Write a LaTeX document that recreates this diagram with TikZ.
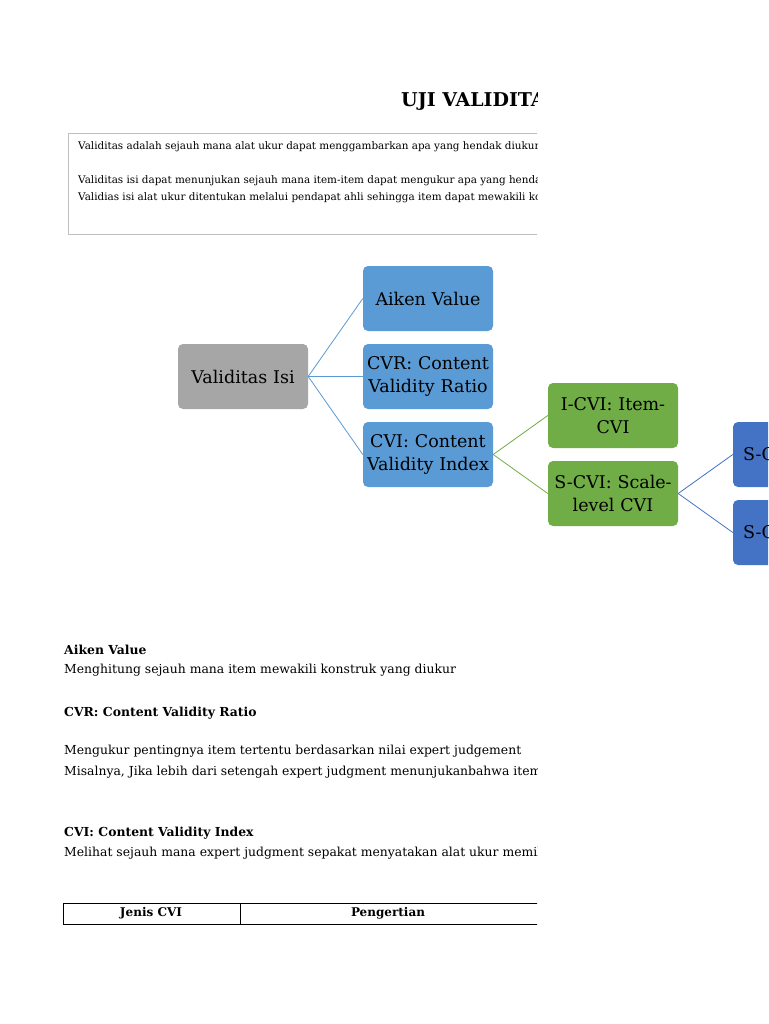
\documentclass[tikz,border=0pt]{standalone}
\usepackage{fontspec}
\setmainfont{DejaVu Serif}
\begin{document}
\begin{tikzpicture}[x=1pt,y=-1pt,
  box/.style={rounded corners=5pt,minimum width=130pt,minimum height=65pt,text width=126pt,align=center,font=\fontsize{17.5}{23}\selectfont,inner sep=0pt},
  gray/.style={box,fill=gray!70},
  lblue/.style={box,fill={rgb,255:red,91;green,155;blue,213}},
  green/.style={box,fill={rgb,255:red,112;green,173;blue,71}},
  dblue/.style={box,fill={rgb,255:red,68;green,114;blue,196}},
  bl/.style={draw={rgb,255:red,91;green,155;blue,213},line width=0.8pt},
  gl/.style={draw={rgb,255:red,112;green,173;blue,71},line width=0.8pt},
  dl/.style={draw={rgb,255:red,68;green,114;blue,196},line width=0.8pt},
  body/.style={anchor=west,inner sep=0pt,font=\fontsize{12.4}{14}\selectfont},
  bbody/.style={body,font=\bfseries\fontsize{12.4}{14}\selectfont},
  small/.style={anchor=west,inner sep=0pt,font=\fontsize{10.4}{12}\selectfont}]
\useasboundingbox (0,0) rectangle (768,1024);
\fill[white] (0,0) rectangle (768,1024);
\begin{scope}
\clip (0,0) rectangle (537,1024);
\node[anchor=west,inner sep=0pt,font=\bfseries\fontsize{19}{22}\selectfont] (title) at (401,101) {UJI VALIDITAS ISI};
\draw[gray!50,line width=0.8pt] (560,133) -| (68,234) -- (560,234);
\node[small] (t1) at (78,147) {Validitas adalah sejauh mana alat ukur dapat menggambarkan apa yang hendak diukur};
\node[small] (t2) at (78,181) {Validitas isi dapat menunjukan sejauh mana item-item dapat mengukur apa yang hendak diukur};
\node[small] (t3) at (78,198) {Validias isi alat ukur ditentukan melalui pendapat ahli sehingga item dapat mewakili konstruk};
\node[bbody] (a1) at (64,650) {Aiken Value};
\node[body] (a2) at (64,670) {Menghitung sejauh mana item mewakili konstruk yang diukur};
\node[bbody] (b1) at (64,713) {CVR: Content Validity Ratio};
\node[body] (b2) at (64,751) {Mengukur pentingnya item tertentu berdasarkan nilai expert judgement};
\node[body] (b3) at (64,772) {Misalnya, Jika lebih dari setengah expert judgment menunjukanbahwa item tersebut penting};
\node[bbody] (c1) at (64,833) {CVI: Content Validity Index};
\node[body] (c2) at (64,853) {Melihat sejauh mana expert judgment sepakat menyatakan alat ukur memiliki validitas};
\draw[line width=0.8pt] (560,903) -| (63,924) -- (560,924);
\draw[line width=0.8pt] (240,903) -- (240,924);
\node[font=\bfseries\fontsize{12}{14}\selectfont] (h1) at (151,913.5) {Jenis CVI};
\node[font=\bfseries\fontsize{12}{14}\selectfont] (h2) at (388,913.5) {Pengertian};
\end{scope}
\node[gray] (vi) at (243,376.5) {Validitas Isi};
\node[lblue] (av) at (428,298.5) {Aiken Value};
\node[lblue] (cvr) at (428,376.5) {CVR: Content\\Validity Ratio};
\node[lblue] (cvi) at (428,454.5) {CVI: Content\\Validity Index};
\node[green] (icvi) at (613,415.5) {I-CVI: Item-\\CVI};
\node[green] (scvi) at (613,493.5) {S-CVI: Scale-\\level CVI};
\begin{scope}
\clip (0,0) rectangle (768,1024);
\node[dblue,align=left,text width=110pt] (s1) at (798,454.5) {S-CVI/UA};
\node[dblue,align=left,text width=110pt] (s2) at (798,532.5) {S-CVI/Ave};
\end{scope}
\draw[bl] (vi.east) -- (av.west);
\draw[bl] (vi.east) -- (cvr.west);
\draw[bl] (vi.east) -- (cvi.west);
\draw[gl] (cvi.east) -- (icvi.west);
\draw[gl] (cvi.east) -- (scvi.west);
\draw[dl] (scvi.east) -- (s1.west);
\draw[dl] (scvi.east) -- (s2.west);
\end{tikzpicture}
\end{document}
